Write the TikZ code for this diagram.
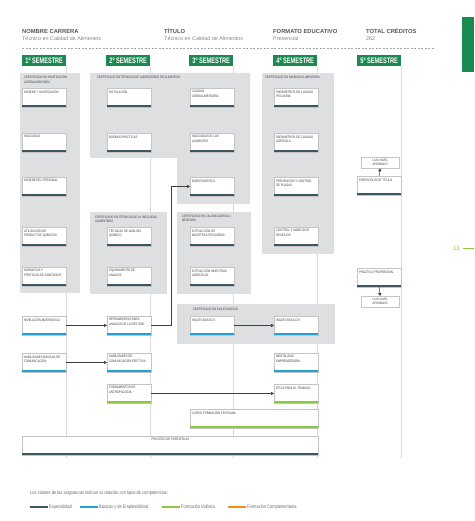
\documentclass[tikz,border=0pt]{standalone}
\usepackage{fontspec}
\setmainfont{Liberation Sans}
\newfontfamily\condfont[FakeStretch=0.8]{Liberation Sans}
\newfontfamily\semfont[FakeStretch=0.7]{Liberation Sans}
\usetikzlibrary{arrows.meta, positioning}

\definecolor{espec}{HTML}{3E5663}
\definecolor{basic}{HTML}{1FA2DA}
\definecolor{valor}{HTML}{8DC63F}
\definecolor{compl}{HTML}{F48A20}
\definecolor{semgreen}{HTML}{1A8A50}
\definecolor{panel}{HTML}{DEDFE1}
\definecolor{colline}{HTML}{DADADA}
\definecolor{boxline}{HTML}{C4C4C4}
\definecolor{headtxt}{HTML}{555555}
\definecolor{subtxt}{HTML}{858585}
\definecolor{smalltxt}{HTML}{3C3C3C}
\definecolor{legendtxt}{HTML}{6A6A6A}

\newcommand{\boxtxt}[1]{\parbox[t][14.6pt][t]{40pt}{\raggedright #1}}

\begin{document}
\begin{tikzpicture}[
    x=1pt, y=-1pt,
    >={Triangle[length=3pt, width=3.2pt]},
    subj/.style={draw=boxline, line width=0.3pt, fill=white, anchor=north west,
                 inner sep=2pt, text=smalltxt,
                 font=\condfont\fontsize{3.5}{4.6}\selectfont},
    bar/.style={draw=#1, line width=1.8pt},
    iaw/.style={draw=boxline, line width=0.3pt, fill=white, anchor=north west,
                minimum width=38pt, minimum height=11pt, inner sep=0pt,
                align=center, text=smalltxt,
                font=\condfont\fontsize{3.3}{4.3}\selectfont},
    ptitle/.style={anchor=north west, inner sep=0pt, align=left, text=smalltxt,
                   font=\condfont\fontsize{3.4}{4.4}\selectfont},
    sem/.style={fill=semgreen, text=white, anchor=north west, inner sep=0pt,
                minimum width=44pt, minimum height=11pt,
                font=\semfont\bfseries\fontsize{8}{8}\selectfont},
    headlbl/.style={anchor=base west, inner sep=0pt, text=headtxt,
                    font=\bfseries\fontsize{5.8}{6}\selectfont},
    headval/.style={anchor=base west, inner sep=0pt, text=subtxt,
                    font=\fontsize{5.4}{6}\selectfont},
    conn/.style={->, draw=black!75, line width=0.5pt},
    legtxt/.style={inner sep=0pt, text=legendtxt,
                   font=\condfont\fontsize{5}{6}\selectfont}
  ]
  \useasboundingbox (0,0) rectangle (474,521);

  % Header
  \fill[semgreen] (462,17) rectangle (474,72);
  \node[headlbl] (nombre) at (22,34) {NOMBRE CARRERA};
  \node[headval] (carrera) at (22,41) {Técnico en Calidad de Alimentos};
  \node[headlbl] (titulo) at (164,34) {TÍTULO};
  \node[headval] (tituloval) at (164,41) {Técnico en Calidad de Alimentos};
  \node[headlbl] (formato) at (273,34) {FORMATO EDUCATIVO};
  \node[headval] (formatoval) at (273,41) {Presencial};
  \node[headlbl] (creditos) at (366,34) {TOTAL CRÉDITOS};
  \node[headval] (creditosval) at (366,41) {262};
  \draw[draw=black!35, line width=0.5pt, dash pattern=on 2pt off 1.5pt]
    (22,48) -- (434,48);

  % Semesters and column lines
  \foreach \n/\x in {1/22,2/106,3/189,4/273,5/357} {
    \node[sem] (s\n) at (\x,55) {\n{}º SEMESTRE};
    \draw[colline, line width=0.5pt] (s\n.south east) -- ++(0,392);
  }

  % Certificate panels
  \fill[panel] (20,73) rectangle (80,293);
  \fill[panel] (90,73) -- (250,73) -- (250,204) -- (177,204) -- (177,158)
    -- (90,158) -- cycle;
  \fill[panel] (262,73) rectangle (334,254);
  \fill[panel] (90,212) rectangle (167,294);
  \fill[panel] (177,212) rectangle (251,294);
  \fill[panel] (177,304) rectangle (335,344);
  \node[ptitle] (cert1) at (24,75.5) {CERTIFICADO EN SANITIZACIÓN\\AGROALIMENTARIA};
  \node[ptitle] (cert2) at (97,75.5) {CERTIFICADO EN TÉCNICAS DE LABORATORIO DE ALIMENTOS};
  \node[ptitle] (cert3) at (265,75.5) {CERTIFICADO EN SANIDAD ALIMENTARIA};
  \node[ptitle] (cert4) at (95,215) {CERTIFICADO EN TÉCNICAS DE LA INOCUIDAD\\ALIMENTARIA};
  \node[ptitle] (cert5) at (182,215) {CERTIFICADO EN CALIDAD AGROALI-\\MENTARIA};
  \node[ptitle] (cert6) at (193,307) {CERTIFICADO EN INGLÉS BÁSICO};

  % Subjects
  \foreach \nm/\x/\y/\col/\txt in {
      hig/22/88/espec/HIGIENE Y SANITIZACIÓN,
      inoc/22/133/espec/INOCUIDAD,
      pers/22/177/espec/HIGIENE DEL PERSONAL,
      quim/22/227/espec/UTILIZACIÓN DE\\PRODUCTOS QUÍMICOS,
      norm/22/267/espec/NORMATIVA Y\\PROTOCOLOS SANITARIOS,
      niv/22/316/basic/NIVELACIÓN MATEMÁTICA,
      habb/22/353/basic/HABILIDADES BÁSICAS DE\\COMUNICACIÓN,
      rot/107/88/espec/ROTULACIÓN,
      buen/107/133/espec/BUENAS PRÁCTICAS,
      tec/107/227/espec/TÉCNICAS DE ANÁLISIS\\QUÍMICO,
      equi/107/267/espec/EQUIPAMIENTO DE\\ANÁLISIS,
      herr/107/316/basic/HERRAMIENTAS PARA\\ANÁLISIS DE LA GESTIÓN,
      habc/107/353/basic/HABILIDADES DE\\COMUNICACIÓN EFECTIVA,
      fund/107/384/valor/FUNDAMENTOS DE\\ANTROPOLOGÍA,
      cal/190/88/espec/CALIDAD\\AGROALIMENTARIA,
      inal/190/133/espec/INOCUIDAD DE LOS\\ALIMENTOS,
      bio/190/177/espec/BIOESTADÍSTICA,
      expec/190/227/espec/EXTRACCIÓN DE\\MUESTRAS PECUARIAS,
      exagr/190/267/espec/EXTRACCIÓN MUESTRAS\\AGRÍCOLAS,
      ing1/190/316/basic/INGLÉS BÁSICO I,
      ppec/274/88/espec/PARÁMETROS DE CALIDAD\\PECUARIA,
      pagr/274/133/espec/PARÁMETROS DE CALIDAD\\AGRÍCOLA,
      plag/274/177/espec/PREVENCIÓN Y CONTROL\\DE PLAGAS,
      resid/274/227/espec/CONTROL Y MANEJO DE\\RESIDUOS,
      ing2/274/316/basic/INGLÉS BÁSICO II,
      ment/274/353/basic/MENTALIDAD\\EMPRENDEDORA,
      etica/274/384/valor/ÉTICA PARA EL TRABAJO,
      port/357/176/espec/PORTAFOLIO DE TÍTULO,
      prac/357/268/espec/PRÁCTICA PROFESIONAL} {
    \node[subj] (\nm) at (\x,\y) {\boxtxt{\txt}};
    \draw[bar=\col] ([yshift=0.9pt]\nm.south west) -- ([yshift=0.9pt]\nm.south east);
  }
  \node[subj] (curso) at (190,409)
    {\parbox[t][14.6pt][t]{124pt}{CURSO FORMACIÓN CRISTIANA}};
  \draw[bar=valor] ([yshift=0.9pt]curso.south west) -- ([yshift=0.9pt]curso.south east);
  \node[subj] (proc) at (22,436)
    {\parbox[t][14.6pt][t]{292pt}{\centering PROCESO DE PORTAFOLIO}};
  \draw[bar=espec] ([yshift=0.9pt]proc.south west) -- ([yshift=0.9pt]proc.south east);

  \node[iaw] (iawa) at (361,157) {I.A.W. NIVEL\\APROBADO};
  \node[iaw] (iawb) at (361,296) {I.A.W. NIVEL\\APROBADO};

  % Prerequisites
  \draw[conn] (niv.east) -- (herr.west);
  \draw[conn] (habb.east) -- (habc.west);
  \draw[conn] (herr.east) -- ++(20,0) |- (bio.west);
  \draw[conn] (fund.east) -- (etica.west);
  \draw[conn] (ing1.east) -- (ing2.west);
  \draw[conn] (port.north) -- (iawa.south);
  \draw[conn] (prac.south) -- (iawb.north);

  % Page number
  \node[anchor=east, inner sep=0pt, text=valor,
        font=\fontsize{6}{6}\selectfont] (pg) at (460,248) {13};
  \draw[valor, line width=0.6pt] (pg.east) ++(3,0) -- ++(11,0);

  % Legend
  \node[legtxt, anchor=west] (legtitle) at (30,493)
    {Los colores de las asignaturas indican su relación con tipos de competencias:};
  \foreach \col/\x/\txt in {espec/30/Especialidad,
      basic/80/Básicas y de Empleabilidad,
      valor/162/Formación Valórica,
      compl/228/Formación Complementaria} {
    \draw[draw=\col, line width=1.5pt] (\x,507) -- ++(18,0) coordinate (end\col);
    \node[legtxt, anchor=west] (leg\col) at ([xshift=1pt]end\col) {\txt};
  }
\end{tikzpicture}
\end{document}
